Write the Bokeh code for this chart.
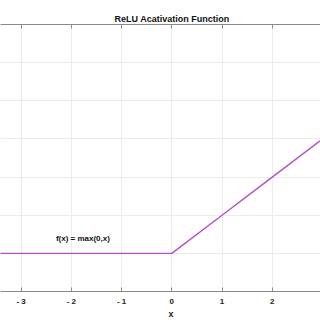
from bokeh.plotting import figure
from bokeh.models import LinearAxis, Grid, FixedTicker, Range1d, Label, Title
from bokeh.embed import file_html
from bokeh.resources import INLINE

# data
x_vals = [-4, -3, -2, -1, 0, 1, 2, 3]
y_vals = [0, 0, 0, 0, 0, 1, 2, 3]
x_ticks = [-3, -2, -1, 0, 1, 2]
x_tick_labels = {-3: "- 3", -2: "- 2", -1: "- 1", 0: "0", 1: "1", 2: "2"}
y_ticks = [-1, 0, 1, 2, 3, 4, 5, 6]
title_text = "ReLU Acativation Function"
x_label_text = "x"
formula_text = "f(x) = max(0,x)"

FONT = "Liberation Sans"
AXIS_COLOR = "#8a8a8a"

p = figure(width=320, height=320, output_backend="svg", toolbar_location=None,
           x_range=Range1d(-3.41, 2.96), y_range=Range1d(-1, 6),
           x_axis_location=None, y_axis_location=None,
           min_border_left=0, min_border_right=0, min_border_top=24, min_border_bottom=0,
           background_fill_color="white", border_fill_color="white")
p.outline_line_color = None
p.title = None

# bottom axis
xb = LinearAxis(ticker=FixedTicker(ticks=x_ticks), major_label_overrides=x_tick_labels)
xb.axis_line_color = AXIS_COLOR
xb.major_tick_line_color = AXIS_COLOR
xb.major_tick_in = 4
xb.major_tick_out = 0
xb.minor_tick_line_color = None
xb.major_label_text_font = FONT
xb.major_label_text_font_style = "bold"
xb.major_label_text_font_size = "8px"
xb.major_label_text_color = "#222222"
xb.major_label_standoff = 5
p.add_layout(xb, "below")

# x-axis label (the original plot is cropped, so it sits right of the canvas centre)
xl = Title(text=x_label_text, align="left", vertical_align="top", text_font=FONT,
           text_font_style="bold", text_font_size="9px", text_color="#222222",
           standoff=0, offset=168)
p.add_layout(xl, "below")

# top axis (mirror box)
xt = LinearAxis(ticker=FixedTicker(ticks=x_ticks),
                major_label_overrides={k: "" for k in x_ticks})
xt.axis_line_color = AXIS_COLOR
xt.major_tick_line_color = AXIS_COLOR
xt.major_tick_in = 4
xt.major_tick_out = 0
xt.minor_tick_line_color = None
xt.major_label_standoff = 0
p.add_layout(xt, "above")

t = Title(text=title_text, align="left", text_font=FONT, text_font_style="bold",
          text_font_size="9px", text_color="#111111", standoff=2, offset=114)
p.add_layout(t, "above")

# grids
gx = Grid(dimension=0, ticker=FixedTicker(ticks=x_ticks), grid_line_color="#ececec")
gy = Grid(dimension=1, ticker=FixedTicker(ticks=y_ticks), grid_line_color="#ececec")
p.add_layout(gx)
p.add_layout(gy)

p.line(x_vals, y_vals, line_color="#b24fc4", line_width=1.4)

p.add_layout(Label(x=-1.77, y=0.40, text=formula_text, text_font=FONT, text_font_style="bold",
                   text_font_size="8px", text_align="center", text_baseline="middle",
                   text_color="#111111"))

open("out.html", "w").write(file_html(p, INLINE))
